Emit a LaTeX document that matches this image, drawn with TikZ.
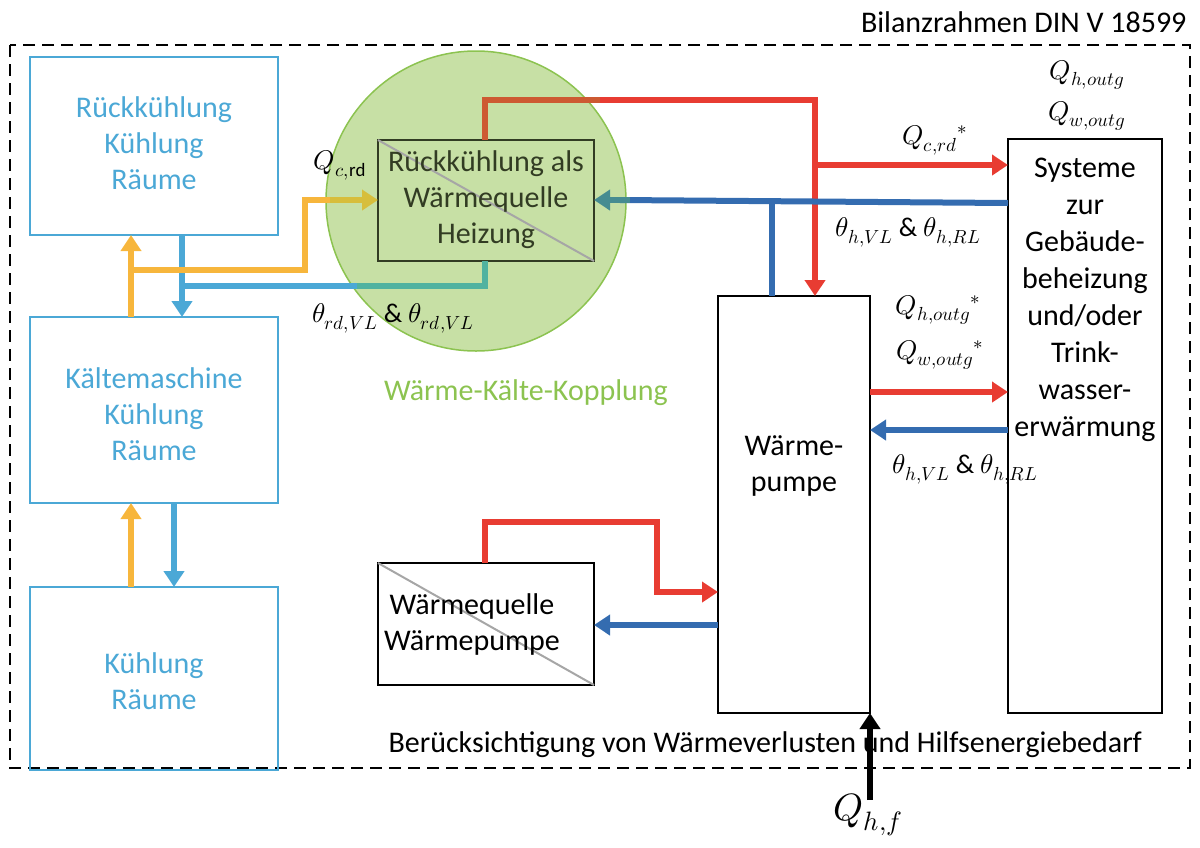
\documentclass[tikz,border=0pt]{standalone}
\usepackage{fontspec}
\usepackage{unicode-math}
\setmainfont{Carlito}
\setmathfont{Latin Modern Math}
\usetikzlibrary{arrows.meta}
\definecolor{cblue}{RGB}{75,168,214}
\definecolor{corange}{RGB}{247,182,60}
\definecolor{cred}{RGB}{232,60,50}
\definecolor{dblue}{RGB}{52,108,176}
\definecolor{cgreen}{RGB}{140,195,80}
\definecolor{cfill}{RGB}{199,224,165}
\definecolor{olive}{RGB}{50,60,35}
\begin{document}
\begin{tikzpicture}[x=1pt,y=-1pt,
  every node/.style={font=\fontsize{30}{36}\selectfont},
  bluebox/.style={draw=cblue,line width=2.5pt,text=cblue,align=center},
  blkbox/.style={draw=black,line width=2.5pt,align=center},
  pipe/.style={line width=6pt},
  arr/.style={pipe,-{Triangle[length=16pt,width=20pt]}},
  lbl/.style={font=\fontsize{27}{32}\selectfont}]
\useasboundingbox (0,0) rectangle (1200,847);
\draw[dashed,line width=2.5pt,dash pattern=on 12pt off 7pt] (10,45) rectangle (1190,768);
\node[anchor=east] (title) at (1190,22) {Bilanzrahmen DIN V 18599};
% circle
\fill[cfill,draw=cgreen,line width=1.5pt] (476,201) circle (150);
\node[text=cgreen] (wkk) at (526,393) {Wärme-Kälte-Kopplung};
% boxes
\draw[bluebox] (30,57) rectangle (278,235);
\node[text=cblue,align=center] (A) at (154,143) {Rückkühlung\\Kühlung\\Räume};
\draw[bluebox] (30,317) rectangle (278,503);
\node[text=cblue,align=center] (B) at (154,414) {Kältemaschine\\Kühlung\\Räume};
\draw[bluebox] (30,587) rectangle (278,770);
\node[text=cblue,align=center] (C) at (154,681) {Kühlung\\Räume};
\draw[draw=olive,line width=2.5pt] (378,140) rectangle (594,261);
\draw[gray!70,line width=2pt] (378,140) -- (594,261);
\node[text=olive,align=center] (D) at (486,200) {Rückkühlung als\\Wärmequelle\\Heizung};
\draw[blkbox] (1008,139) rectangle (1162,713);
\node[align=center,font=\fontsize{30}{37}\selectfont] (E) at (1085,300) {Systeme\\zur\\Gebäude-\\beheizung\\und/oder\\Trink-\\wasser-\\erwärmung};
\draw[blkbox] (718,296) rectangle (870,713);
\node[align=center] (F) at (794,466) {Wärme-\\pumpe};
\draw[blkbox] (378,563) rectangle (594,685);
\draw[gray!70,line width=2pt] (378,563) -- (594,685);
\node[align=center] (G) at (472,624) {Wärmequelle\\Wärmepumpe};
% coordinates
\coordinate (o1) at (131,317); \coordinate (o2) at (131,235);
\coordinate (b1) at (182,235); \coordinate (b2) at (182,317);
\coordinate (o3) at (131,587); \coordinate (o4) at (131,503);
\coordinate (b3) at (174,503); \coordinate (b4) at (174,587);
% left connectors
\draw[arr,corange] (o1) -- (o2);
\draw[arr,cblue] (b1) -- (b2);
\draw[arr,corange] (o3) -- (o4);
\draw[arr,cblue] (b3) -- (b4);
\draw[pipe,corange] (131,270) -- (305,270) -- (305,200) -- (340,200);
\draw[arr,color={rgb,255:red,215;green,190;blue,60}] (330,200) -- (378,200);
\draw[pipe,cblue] (182,286) -- (360,286);
\draw[pipe,color={rgb,255:red,80;green,178;blue,160}] (357,286) -- (485,286) -- (485,261);
% red top
\draw[pipe,cred] (485,140) -- (485,100) -- (815,100) -- (815,170);
\draw[pipe,color={rgb,255:red,205;green,90;blue,50}] (485,140) -- (485,100) -- (600,100);
\draw[arr,cred] (815,160) -- (815,296);
\draw[arr,cred] (812,165) -- (1008,165);
% blue top
\draw[pipe,dblue] (1008,203) -- (620,200);
\draw[arr,color={rgb,255:red,70;green,140;blue,145}] (630,200) -- (594,200);
\draw[pipe,dblue] (772,203) -- (772,296);
% right arrows
\draw[arr,cred] (870,392) -- (1008,392);
\draw[arr,dblue] (1008,430) -- (870,430);
% bottom
\draw[pipe,cred] (485,563) -- (485,522) -- (657,522) -- (657,592) -- (700,592);
\draw[arr,cred] (690,592) -- (718,592);
\draw[arr,dblue] (718,625) -- (594,625);
\coordinate (qf) at (870,800);
\draw[arr,black] (qf) -- (870,713);
% labels
\node[lbl] at (340,165) {$Q_{c,\mathrm{rd}}$};
\node[lbl] at (393,318) {$\theta_{rd,VL}$ \& $\theta_{rd,VL}$};
\node[lbl] at (935,140) {$Q_{c,rd}{}^{*}$};
\node[lbl] at (908,232) {$\theta_{h,VL}$ \& $\theta_{h,RL}$};
\node[lbl] at (938,310) {$Q_{h,outg}{}^{*}$};
\node[lbl] at (940,355) {$Q_{w,outg}{}^{*}$};
\node[lbl] at (965,469) {$\theta_{h,VL}$ \& $\theta_{h,RL}$};
\node[lbl] at (1087,75) {$Q_{h,outg}$};
\node[lbl] at (1087,116) {$Q_{w,outg}$};
\node[anchor=west] (ber) at (385,745) {Berücksichtigung von Wärmeverlusten und Hilfsenergiebedarf};
\node[font=\fontsize{38}{46}\selectfont] (qhf) at (868,815) {$Q_{h,f}$};
\end{tikzpicture}
\end{document}
